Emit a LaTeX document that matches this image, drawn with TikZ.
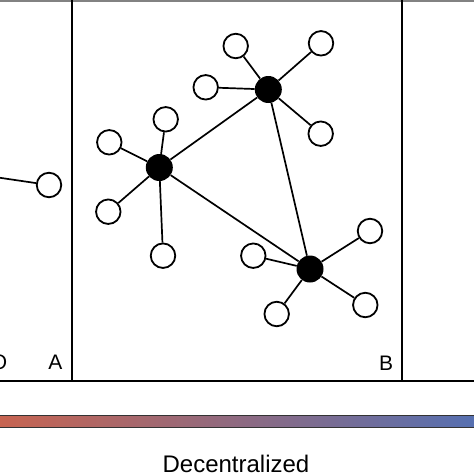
\documentclass[tikz,border=0pt]{standalone}
\usepackage{fontspec}
\setmainfont{Liberation Sans}
\definecolor{barL}{RGB}{200,100,80}
\definecolor{barM}{RGB}{158,104,132}
\definecolor{barR}{RGB}{85,112,178}
\definecolor{topgray}{RGB}{130,130,130}
\begin{document}
\begin{tikzpicture}[x=1pt,y=-1pt,
  leaf/.style={circle,draw=black,fill=white,line width=1.8pt,minimum size=24.5pt,inner sep=0pt},
  hub/.style={circle,fill=black,minimum size=27pt,inner sep=0pt},
  edge/.style={line width=1.7pt},
  panel/.style={line width=1.9pt},
  lbl/.style={anchor=base,inner sep=0pt,font=\fontsize{21}{25}\selectfont}]
\useasboundingbox (0,0) rectangle (474,474);
\begin{scope}
\clip (0,0) rectangle (474,474);
% top gray border
\fill[topgray] (0,0) rectangle (474,2);
% panel lines
\coordinate (v1t) at (71.7,0);
\coordinate (v1b) at (71.7,381.3);
\coordinate (v2t) at (402.3,0);
\coordinate (v2b) at (402.3,381.3);
\coordinate (hl) at (0,381.3);
\coordinate (hr) at (474,381.3);
\draw[panel] (v1t) -- (v1b);
\draw[panel] (v2t) -- (v2b);
\draw[panel] (hl) -- (hr);
% panel A fragment
\coordinate (aend) at (-2,177.5);
\node[leaf] (a1) at (49,185) {};
\draw[edge] (aend) -- (a1);
\node[lbl] (fragO) at (-1,369.5) {O};
\node[lbl] (labA) at (55.5,369.5) {A};
% panel B hubs
\node[hub] (h1) at (159.3,167.5) {};
\node[hub] (h2) at (268.3,89.5) {};
\node[hub] (h3) at (310,269) {};
% leaves
\node[leaf] (l11) at (165.7,119.3) {};
\node[leaf] (l12) at (109.3,142.3) {};
\node[leaf] (l13) at (108.3,211.7) {};
\node[leaf] (l14) at (163,255.7) {};
\node[leaf] (l21) at (235.7,46) {};
\node[leaf] (l22) at (321,43.3) {};
\node[leaf] (l23) at (205.7,87.3) {};
\node[leaf] (l24) at (320.7,133.7) {};
\node[leaf] (l31) at (370,231) {};
\node[leaf] (l32) at (253.3,255.7) {};
\node[leaf] (l33) at (276.7,314) {};
\node[leaf] (l34) at (365.3,305) {};
\draw[edge] (h1) -- (h2);
\draw[edge] (h1) -- (h3);
\draw[edge] (h2) -- (h3);
\foreach \l in {l11,l12,l13,l14} \draw[edge] (h1) -- (\l);
\foreach \l in {l21,l22,l23,l24} \draw[edge] (h2) -- (\l);
\foreach \l in {l31,l32,l33,l34} \draw[edge] (h3) -- (\l);
\node[lbl] (labB) at (386,370) {B};
% colour bar
\shade[left color=barL,middle color=barM,right color=barR] (-5,415.5) rectangle (480,427);
\draw[line width=1pt,black!80] (-5,415.5) rectangle (480,427);
\node[anchor=base,inner sep=0pt,font=\fontsize{24}{28}\selectfont] (dec) at (236,472.5) {Decentralized};
\end{scope}
\end{tikzpicture}
\end{document}
